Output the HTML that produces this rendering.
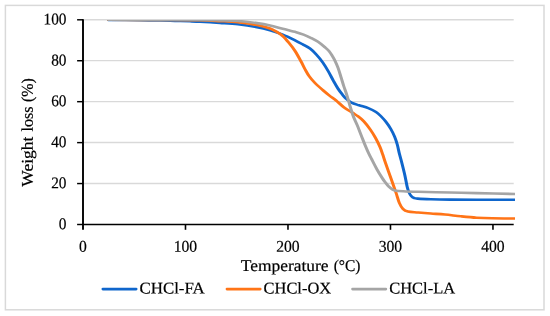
<!DOCTYPE html>
<html><head><meta charset="utf-8"><title>TGA</title>
<style>html,body{margin:0;padding:0;background:#fff}svg{display:block}text{font-family:"Liberation Serif","DejaVu Serif",serif;font-size:16.4px;fill:#000;stroke:#000;stroke-width:0.2px}</style>
</head><body><svg width="550" height="316" viewBox="0 0 550 316">
<defs><clipPath id="pc"><rect x="72.17" y="19.9" width="375.57" height="206"/></clipPath></defs>
<rect x="5.4" y="5.4" width="538.6" height="304.4" fill="#fff" stroke="#d9d9d9" stroke-width="1.5"/>
<line x1="83.00" x2="513.70" y1="183.46" y2="183.46" stroke="#d9d9d9" stroke-width="1.35"/>
<line x1="83.00" x2="513.70" y1="142.52" y2="142.52" stroke="#d9d9d9" stroke-width="1.35"/>
<line x1="83.00" x2="513.70" y1="101.58" y2="101.58" stroke="#d9d9d9" stroke-width="1.35"/>
<line x1="83.00" x2="513.70" y1="60.64" y2="60.64" stroke="#d9d9d9" stroke-width="1.35"/>
<line x1="83.00" x2="513.70" y1="19.70" y2="19.70" stroke="#d9d9d9" stroke-width="1.35"/>
<g transform="scale(1.15 1)" clip-path="url(#pc)" fill="none" stroke-width="2.62" stroke-linejoin="round" stroke-linecap="round">
<path d="M94.35,19.90 C98.91,19.93 114.28,20.01 121.74,20.10 C129.20,20.19 134.06,20.32 139.13,20.45 C144.20,20.57 147.83,20.71 152.17,20.85 C156.52,20.99 161.59,21.17 165.22,21.30 C168.84,21.43 171.01,21.50 173.91,21.65 C176.81,21.80 179.71,21.99 182.61,22.20 C185.51,22.41 187.25,22.55 191.30,22.90 C195.36,23.25 201.59,23.60 206.96,24.30 C212.32,25.00 218.84,26.12 223.48,27.10 C228.12,28.08 231.06,28.95 234.78,30.20 C238.51,31.45 242.20,32.92 245.83,34.60 C249.46,36.28 253.66,38.67 256.57,40.30 C259.48,41.93 261.14,43.02 263.30,44.40 C265.47,45.78 267.61,46.92 269.57,48.60 C271.52,50.28 273.20,52.20 275.04,54.50 C276.88,56.80 278.86,59.57 280.61,62.40 C282.36,65.23 284.00,68.40 285.57,71.50 C287.13,74.60 288.62,78.17 290.00,81.00 C291.38,83.83 292.54,86.23 293.83,88.50 C295.12,90.77 296.57,92.92 297.74,94.60 C298.91,96.28 299.57,97.27 300.87,98.60 C302.17,99.93 303.67,101.48 305.57,102.60 C307.46,103.72 309.80,104.38 312.25,105.30 C314.69,106.22 317.79,106.98 320.24,108.10 C322.70,109.22 325.08,110.60 326.96,112.00 C328.83,113.40 330.07,114.90 331.48,116.50 C332.88,118.10 334.00,119.52 335.39,121.60 C336.78,123.68 338.54,126.50 339.83,129.00 C341.12,131.50 342.20,134.05 343.13,136.60 C344.06,139.15 344.70,141.43 345.39,144.30 C346.09,147.17 346.64,150.73 347.30,153.80 C347.97,156.87 348.59,159.10 349.39,162.70 C350.19,166.30 351.29,171.30 352.09,175.40 C352.88,179.50 353.58,184.47 354.17,187.30 C354.77,190.13 355.09,190.95 355.65,192.40 C356.22,193.85 356.83,195.07 357.57,196.00 C358.30,196.93 359.14,197.57 360.09,198.00 C361.03,198.43 360.78,198.40 363.22,198.60 C365.65,198.80 370.01,199.03 374.70,199.20 C379.38,199.37 384.68,199.50 391.30,199.60 C397.93,199.70 404.87,199.77 414.43,199.80 C424.00,199.83 442.99,199.80 448.70,199.80" stroke="#0f66cc"/>
<path d="M94.35,19.80 C101.81,19.82 125.87,19.88 139.13,19.95 C152.39,20.02 165.22,20.01 173.91,20.20 C182.61,20.39 185.80,20.75 191.30,21.10 C196.81,21.45 201.59,21.65 206.96,22.30 C212.32,22.95 218.84,23.97 223.48,25.00 C228.12,26.03 231.97,27.38 234.78,28.50 C237.59,29.62 238.51,30.45 240.35,31.70 C242.19,32.95 244.02,34.15 245.83,36.00 C247.63,37.85 249.40,40.30 251.19,42.80 C252.98,45.30 254.81,47.90 256.57,51.00 C258.33,54.10 260.31,58.40 261.74,61.40 C263.17,64.40 263.93,66.50 265.13,69.00 C266.33,71.50 267.49,74.07 268.96,76.40 C270.42,78.73 271.97,80.73 273.91,83.00 C275.86,85.27 278.51,87.90 280.61,90.00 C282.71,92.10 284.58,93.85 286.52,95.60 C288.46,97.35 290.19,98.57 292.26,100.50 C294.33,102.43 296.55,105.13 298.96,107.20 C301.36,109.27 304.65,111.38 306.70,112.90 C308.75,114.42 309.64,114.88 311.26,116.30 C312.87,117.72 314.58,119.18 316.38,121.40 C318.18,123.62 320.35,126.85 322.04,129.60 C323.73,132.35 325.12,135.00 326.52,137.90 C327.92,140.80 329.39,144.25 330.43,147.00 C331.48,149.75 332.00,151.78 332.78,154.40 C333.57,157.02 334.09,159.20 335.13,162.70 C336.17,166.20 337.74,171.15 339.04,175.40 C340.35,179.65 341.99,185.02 342.96,188.20 C343.93,191.38 344.16,192.05 344.87,194.50 C345.58,196.95 346.30,200.50 347.22,202.90 C348.13,205.30 349.09,207.45 350.35,208.90 C351.61,210.35 352.57,211.00 354.78,211.60 C357.00,212.20 360.33,212.18 363.65,212.50 C366.97,212.82 370.81,213.17 374.70,213.50 C378.58,213.83 382.62,214.03 386.96,214.50 C391.29,214.97 396.12,215.77 400.70,216.30 C405.28,216.83 409.86,217.37 414.43,217.70 C419.01,218.03 422.46,218.17 428.17,218.30 C433.88,218.43 445.28,218.47 448.70,218.50" stroke="#ff7417"/>
<path d="M94.35,19.80 C101.81,19.82 125.87,19.87 139.13,19.90 C152.39,19.93 165.22,19.92 173.91,20.00 C182.61,20.08 185.80,20.23 191.30,20.40 C196.81,20.57 201.59,20.55 206.96,21.00 C212.32,21.45 218.84,22.37 223.48,23.10 C228.12,23.83 231.06,24.45 234.78,25.40 C238.51,26.35 242.03,27.67 245.83,28.80 C249.62,29.93 254.53,31.23 257.55,32.20 C260.57,33.17 261.85,33.67 263.96,34.60 C266.07,35.53 268.12,36.60 270.22,37.80 C272.32,39.00 274.45,40.17 276.57,41.80 C278.68,43.43 281.33,46.07 282.91,47.60 C284.49,49.13 285.12,49.77 286.04,51.00 C286.97,52.23 287.62,53.43 288.48,55.00 C289.33,56.57 290.26,58.25 291.17,60.40 C292.09,62.55 293.03,64.98 293.96,67.90 C294.88,70.82 295.89,74.80 296.74,77.90 C297.59,81.00 298.21,83.55 299.04,86.50 C299.88,89.45 300.83,92.25 301.74,95.60 C302.65,98.95 303.59,103.12 304.52,106.60 C305.45,110.08 306.27,113.37 307.30,116.50 C308.34,119.63 309.58,122.25 310.71,125.40 C311.85,128.55 312.96,132.05 314.10,135.40 C315.25,138.75 316.54,142.62 317.59,145.50 C318.63,148.38 319.45,150.47 320.35,152.70 C321.26,154.93 321.82,156.17 323.03,158.90 C324.25,161.63 326.10,165.92 327.65,169.10 C329.20,172.28 331.10,175.78 332.35,178.00 C333.59,180.22 334.20,181.02 335.13,182.40 C336.06,183.78 336.91,185.15 337.91,186.30 C338.91,187.45 340.07,188.57 341.13,189.30 C342.19,190.03 342.68,190.37 344.26,190.70 C345.84,191.03 347.41,191.12 350.61,191.30 C353.81,191.48 356.70,191.60 363.48,191.80 C370.26,192.00 382.81,192.28 391.30,192.50 C399.80,192.72 404.87,192.85 414.43,193.10 C424.00,193.35 442.99,193.85 448.70,194.00" stroke="#a5a5a5"/>
</g>
<line x1="83.00" x2="513.70" y1="224.40" y2="224.40" stroke="#000" stroke-width="1.5"/>
<line x1="83.00" x2="83.00" y1="19.20" y2="229.80" stroke="#000" stroke-width="1.9"/>
<line x1="77.10" x2="83.00" y1="224.50" y2="224.50" stroke="#000" stroke-width="1.45"/>
<line x1="77.10" x2="83.00" y1="183.56" y2="183.56" stroke="#000" stroke-width="1.45"/>
<line x1="77.10" x2="83.00" y1="142.62" y2="142.62" stroke="#000" stroke-width="1.45"/>
<line x1="77.10" x2="83.00" y1="101.68" y2="101.68" stroke="#000" stroke-width="1.45"/>
<line x1="77.10" x2="83.00" y1="60.74" y2="60.74" stroke="#000" stroke-width="1.45"/>
<line x1="77.10" x2="83.00" y1="19.80" y2="19.80" stroke="#000" stroke-width="1.45"/>
<line x1="185.49" x2="185.49" y1="224.40" y2="229.80" stroke="#000" stroke-width="1.6"/>
<line x1="287.98" x2="287.98" y1="224.40" y2="229.80" stroke="#000" stroke-width="1.6"/>
<line x1="390.47" x2="390.47" y1="224.40" y2="229.80" stroke="#000" stroke-width="1.6"/>
<line x1="492.96" x2="492.96" y1="224.40" y2="229.80" stroke="#000" stroke-width="1.6"/>
<text transform="translate(66.50 229.20) rotate(0.04)" text-anchor="end" textLength="7.7" lengthAdjust="spacingAndGlyphs" font-size="16.7">0</text>
<text transform="translate(66.50 188.26) rotate(0.04)" text-anchor="end" textLength="15.3" lengthAdjust="spacingAndGlyphs" font-size="16.7">20</text>
<text transform="translate(66.50 147.32) rotate(0.04)" text-anchor="end" textLength="15.3" lengthAdjust="spacingAndGlyphs" font-size="16.7">40</text>
<text transform="translate(66.50 106.38) rotate(0.04)" text-anchor="end" textLength="15.3" lengthAdjust="spacingAndGlyphs" font-size="16.7">60</text>
<text transform="translate(66.50 65.44) rotate(0.04)" text-anchor="end" textLength="15.3" lengthAdjust="spacingAndGlyphs" font-size="16.7">80</text>
<text transform="translate(66.50 24.50) rotate(0.04)" text-anchor="end" textLength="23.0" lengthAdjust="spacingAndGlyphs" font-size="16.7">100</text>
<text transform="translate(82.95 251.80) rotate(0.04)" text-anchor="middle" textLength="7.8" lengthAdjust="spacingAndGlyphs" font-size="16.7">0</text>
<text transform="translate(185.44 251.80) rotate(0.04)" text-anchor="middle" textLength="23.5" lengthAdjust="spacingAndGlyphs" font-size="16.7">100</text>
<text transform="translate(287.93 251.80) rotate(0.04)" text-anchor="middle" textLength="23.5" lengthAdjust="spacingAndGlyphs" font-size="16.7">200</text>
<text transform="translate(390.42 251.80) rotate(0.04)" text-anchor="middle" textLength="23.5" lengthAdjust="spacingAndGlyphs" font-size="16.7">300</text>
<text transform="translate(492.91 251.80) rotate(0.04)" text-anchor="middle" textLength="23.5" lengthAdjust="spacingAndGlyphs" font-size="16.7">400</text>
<text transform="translate(0 270.9) rotate(0.03)"><tspan x="240.8" textLength="87.8" lengthAdjust="spacingAndGlyphs">Temperature</tspan> <tspan x="333.7" textLength="26.8" lengthAdjust="spacingAndGlyphs">(°C)</tspan></text>
<text transform="translate(32.8 186.7) rotate(-90.04)"><tspan x="0" textLength="50.2" lengthAdjust="spacingAndGlyphs">Weight</tspan> <tspan x="55.3" textLength="25" lengthAdjust="spacingAndGlyphs">loss</tspan> <tspan x="84.7" textLength="23.9" lengthAdjust="spacingAndGlyphs">(%)</tspan></text>
<line x1="102.8" x2="136.2" y1="289.1" y2="289.1" stroke="#0f66cc" stroke-width="2.6" stroke-linecap="round"/>
<text transform="translate(139.50 293.45) rotate(0.04)" text-anchor="start" textLength="65.3" lengthAdjust="spacingAndGlyphs" font-size="15.9">CHCl-FA</text>
<line x1="226.9" x2="260.3" y1="289.1" y2="289.1" stroke="#ff7417" stroke-width="2.6" stroke-linecap="round"/>
<text transform="translate(263.60 293.45) rotate(0.04)" text-anchor="start" textLength="67.5" lengthAdjust="spacingAndGlyphs" font-size="15.9">CHCl-OX</text>
<line x1="352.5" x2="385.9" y1="289.1" y2="289.1" stroke="#a5a5a5" stroke-width="2.6" stroke-linecap="round"/>
<text transform="translate(389.20 293.45) rotate(0.04)" text-anchor="start" textLength="66.0" lengthAdjust="spacingAndGlyphs" font-size="15.9">CHCl-LA</text>
</svg></body></html>
